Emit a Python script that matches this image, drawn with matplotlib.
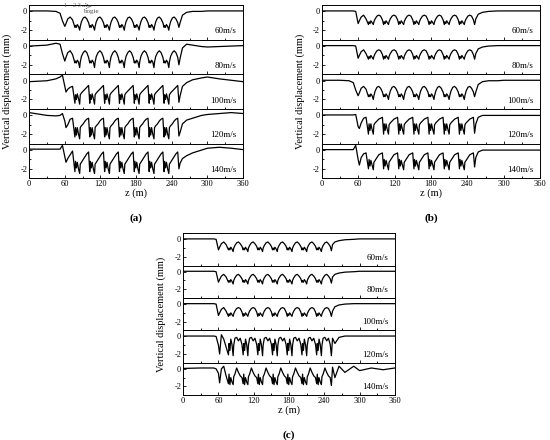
import numpy as np
import matplotlib
matplotlib.use("Agg")
import matplotlib.pyplot as plt

plt.rcParams['font.family'] = ['Liberation Serif', 'DejaVu Serif']

speeds = ['60m/s', '80m/s', '100m/s', '120m/s', '140m/s']
xticks = [0, 60, 120, 180, 240, 300, 360]

# z grid: lead-in, 7 cars (offsets from first axle dip), tail
z_pre = [0, 30, 45, 52, 56, 60, 62, 65, 69, 73]
car_starts = [77, 102, 127, 152, 177, 202, 227]
car_off = [0, 1, 2.5, 4, 6, 8, 9, 11, 14, 17, 20, 23]
z_post = [252, 254, 258, 265, 275, 290, 300, 320, 340, 360]

# quasi-static shapes
pre_q60 = [0.05, 0.05, 0.0, -0.2, -1.0, -1.6, -1.3, -0.8, -0.6, -0.9]
car_q60 = [-1.7, -1.5, -1.7, -1.4, -1.6, -2.0, -1.6, -1.1, -0.7, -0.6, -0.8, -1.2]
post_q60 = [-1.7, -1.2, -0.4, -0.1, 0.0, 0.0, 0.05, 0.05, 0.05, 0.05]

pre_q80 = [0.0, 0.1, 0.3, 0.2, -0.8, -1.6, -1.2, -0.7, -0.5, -0.9]
car_q80 = [-1.8, -1.6, -1.8, -1.5, -1.7, -2.3, -1.7, -1.1, -0.7, -0.5, -0.7, -1.2]
post_q80 = [-2.0, -1.3, -0.2, 0.2, 0.1, -0.05, -0.1, -0.05, 0.0, 0.05]

pre_qb = [0.05, 0.05, 0.05, 0.05, 0.0, -1.3, -1.0, -0.6, -0.4, -0.8]
car_qb = [-1.4, -1.1, -1.3, -1.0, -1.2, -1.4, -1.1, -0.8, -0.5, -0.4, -0.5, -0.9]
post_qb = [-1.4, -0.8, -0.3, -0.1, 0.0, 0.05, 0.05, 0.05, 0.05, 0.05]

pre_qc = [0.05, 0.05, 0.05, 0.05, 0.0, -1.2, -0.9, -0.5, -0.3, -0.6]
car_qc = [-1.2, -1.0, -1.2, -0.9, -1.1, -1.4, -1.0, -0.7, -0.4, -0.3, -0.5, -0.8]
post_qc = [-1.3, -0.6, -0.3, -0.15, -0.05, 0.0, 0.05, 0.05, 0.05, 0.05]

# dynamic (sawtooth) shapes
pre_a100 = [-0.1, 0.0, 0.2, 0.4, 0.6, -0.6, -1.2, -0.9, -0.7, -0.6]
car_a100 = [-2.4, -1.5, -2.0, -1.4, -1.9, -2.5, -1.5, -1.3, -1.1, -0.9, -0.7, -0.5]
post_a100 = [-2.3, -1.6, -0.6, -0.2, 0.1, 0.3, 0.4, 0.2, 0.05, -0.1]

pre_a120 = [0.3, 0.0, -0.05, 0.0, 0.2, -0.6, -1.3, -1.0, -0.4, -0.3]
car_a120 = [-2.3, -1.3, -2.1, -1.3, -2.0, -2.5, -1.3, -1.1, -0.9, -0.6, -0.4, -0.3]
post_a120 = [-2.2, -1.8, -0.9, -0.5, -0.3, 0.0, 0.1, 0.2, 0.3, 0.2]

pre_a140 = [0.1, 0.1, 0.1, 0.1, 0.5, -0.7, -1.3, -0.9, -0.5, -0.1]
car_a140 = [-2.3, -1.2, -1.9, -1.3, -2.0, -2.5, -1.5, -1.3, -1.0, -0.7, -0.4, -0.2]
post_a140 = [-2.0, -1.4, -0.9, -0.6, -0.3, 0.0, 0.2, 0.3, 0.2, 0.05]

pre_b120 = [0.05, 0.05, 0.05, 0.05, 0.1, -1.2, -1.4, -0.8, -0.3, -0.2]
car_b120 = [-2.0, -0.9, -1.6, -0.9, -1.5, -2.0, -1.0, -0.8, -0.6, -0.4, -0.3, -0.2]
post_b120 = [-1.9, -0.9, -0.2, 0.0, 0.0, 0.0, 0.0, 0.0, 0.0, 0.0]

pre_b140 = [0.05, 0.05, 0.05, 0.05, 0.5, -1.0, -1.6, -0.8, -0.4, -0.3]
car_b140 = [-2.0, -1.0, -1.7, -1.1, -1.6, -2.1, -1.3, -1.1, -0.8, -0.5, -0.4, -0.3]
post_b140 = [-1.8, -0.8, -0.2, 0.0, 0.0, 0.0, 0.0, 0.0, 0.0, 0.0]

pre_c120 = [0.05, 0.05, 0.05, 0.05, 0.0, -1.0, -2.0, 0.2, -0.3, -1.2]
car_c120 = [-2.1, -0.8, -1.6, -0.3, -0.9, -2.2, -1.0, -0.2, -0.1, -0.5, -0.2, -0.9]
post_c120 = [-2.2, -0.2, -0.8, -0.1, 0.05, 0.05, 0.05, 0.05, 0.05, 0.05]

pre_c140 = [0.05, 0.1, 0.1, 0.1, 0.0, -0.5, -1.6, 0.0, 0.3, -0.8]
car_c140 = [-1.7, -0.6, -1.8, -1.0, -1.5, -1.8, -0.9, -0.6, 0.1, -0.4, -0.8, -1.0]
post_c140 = [-1.9, 0.2, -1.0, 0.3, -0.4, 0.3, -0.2, 0.1, -0.1, 0.1]

z_grid = z_pre + [a + o for a in car_starts for o in car_off] + z_post


def curve(pre, car, post):
    return np.array(pre + car * len(car_starts) + post)


panels = {
    '(a)': [curve(pre_q60, car_q60, post_q60), curve(pre_q80, car_q80, post_q80),
            curve(pre_a100, car_a100, post_a100), curve(pre_a120, car_a120, post_a120),
            curve(pre_a140, car_a140, post_a140)],
    '(b)': [curve(pre_qb, car_qb, post_qb), curve(pre_qb, car_qb, post_qb),
            curve(pre_q60, car_q60, post_q60), curve(pre_b120, car_b120, post_b120),
            curve(pre_b140, car_b140, post_b140)],
    '(c)': [curve(pre_qc, car_qc, post_qc), curve(pre_qc, car_qc, post_qc),
            curve(pre_qb, car_qb, post_qb), curve(pre_c120, car_c120, post_c120),
            curve(pre_c140, car_c140, post_c140)],
}

# panel boxes in figure fraction: left, right, bottom, top
boxes = {
    '(a)': (0.053, 0.442, 0.595, 0.989),
    '(b)': (0.585, 0.982, 0.595, 0.989),
    '(c)': (0.333, 0.718, 0.102, 0.470),
}

fig = plt.figure(figsize=(5.5, 4.4), dpi=100)
for name, curves in panels.items():
    l, r, b, t = boxes[name]
    h = (t - b) / 5
    axes = []
    for i, w in enumerate(curves):
        ax = fig.add_axes([l, t - (i + 1) * h, r - l, h])
        ax.plot(z_grid, w, color='k', lw=0.9)
        ax.set_xlim(0, 360)
        ax.set_ylim(-3, 0.7)
        ax.set_yticks([0, -2])
        ax.set_yticklabels(['0', '-2'])
        ax.set_yticks([-1], minor=True)
        ax.set_xticks(xticks)
        ax.set_xticks(np.arange(0, 361, 30), minor=True)
        ax.tick_params(labelsize=6, length=2, width=0.6, direction='in', pad=1.5)
        ax.tick_params(which='minor', length=1.2, direction='in')
        for s in ax.spines.values():
            s.set_linewidth(0.7)
        if i < 4:
            ax.tick_params(labelbottom=False)
        ax.text(0.97, 0.12, speeds[i], transform=ax.transAxes, ha='right',
                va='bottom', fontsize=6.5)
        axes.append(ax)
    axes[-1].set_xlabel('z (m)', fontsize=7.5, labelpad=0)
    fig.text(l - 0.04, (t + b) / 2, 'Vertical displacement (mm)', rotation=90,
             ha='center', va='center', fontsize=7.5)
    fig.text((l + r) / 2, b - 0.09, name, ha='center', va='center',
             fontsize=8, fontweight='bold')
    if name == '(a)':
        ax0 = axes[0]
        ax0.text(57, 0.45, '1', fontsize=4.5, color='0.4')
        ax0.text(73, 0.45, '2 3', fontsize=4.5, color='0.4')
        ax0.annotate('', xy=(110, 0.55), xytext=(85, 0.55),
                     arrowprops=dict(arrowstyle='->', lw=0.5, color='0.3', ls=':'))
        ax0.text(92, -0.2, 'bogie', fontsize=5, color='0.3')

fig.savefig('out.png', dpi=100)
